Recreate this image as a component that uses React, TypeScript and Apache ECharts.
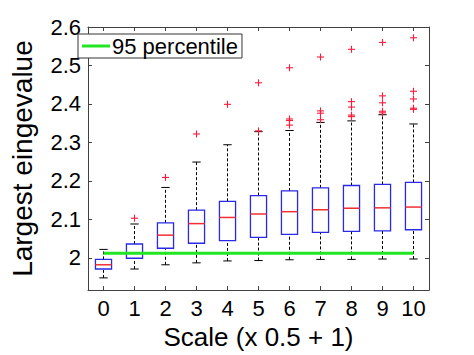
import React, { useEffect, useRef } from "react";
import * as echarts from "echarts";

const categories = ["0", "1", "2", "3", "4", "5", "6", "7", "8", "9", "10"];
// [min, q1, median, q3, max]
const boxStats: number[][] = [
  [1.948, 1.971, 1.982, 1.996, 2.022],
  [1.971, 1.999, 2.012, 2.036, 2.088],
  [1.982, 2.025, 2.059, 2.091, 2.183],
  [1.987, 2.038, 2.089, 2.124, 2.249],
  [1.992, 2.045, 2.105, 2.147, 2.294],
  [1.993, 2.053, 2.114, 2.162, 2.328],
  [1.995, 2.061, 2.12, 2.174, 2.331],
  [1.996, 2.066, 2.125, 2.182, 2.352],
  [1.996, 2.069, 2.129, 2.188, 2.356],
  [1.997, 2.07, 2.13, 2.191, 2.372],
  [1.997, 2.073, 2.132, 2.196, 2.348],
];
const outliers: number[][] = [
  [],
  [2.103],
  [2.209],
  [2.322],
  [2.399],
  [2.455, 2.33],
  [2.494, 2.361, 2.357, 2.345],
  [2.522, 2.382, 2.376, 2.359],
  [2.542, 2.406, 2.392, 2.371, 2.367],
  [2.56, 2.421, 2.403, 2.381, 2.377],
  [2.572, 2.433, 2.413, 2.389, 2.386],
];
const percentile95 = 2.012;
const yMin = 1.9162;
const yMax = 2.6;

const FONT = "'Liberation Sans', Arial, Helvetica, sans-serif";
const AXIS_COLOR = "#404040";

export default function App() {
  const ref = useRef<HTMLDivElement>(null);
  useEffect(() => {
    if (!ref.current) return;
    const chart = echarts.init(ref.current, undefined, { renderer: "svg" });
    const boxData = boxStats.map((s, i) => [i, ...s]);
    const outlierData: number[][] = [];
    outliers.forEach((arr, i) => arr.forEach((v) => outlierData.push([i, v])));
    const lineData = [
      [categories[0], percentile95],
      [categories[categories.length - 1], percentile95],
    ];

    const yAxisCommon = {
      type: "value",
      min: yMin,
      max: yMax,
      splitNumber: 6,
      splitLine: { show: false },
      axisLine: { show: true, lineStyle: { color: AXIS_COLOR, width: 1 } },
      axisTick: { show: true, inside: true, length: 4, lineStyle: { color: AXIS_COLOR } },
    };
    const xAxisCommon = {
      type: "category",
      data: categories,
      boundaryGap: true,
      splitLine: { show: false },
      axisLine: { show: true, lineStyle: { color: AXIS_COLOR, width: 1 } },
      axisTick: {
        show: true,
        inside: true,
        length: 4,
        alignWithLabel: true,
        interval: 0,
        lineStyle: { color: AXIS_COLOR },
      },
    };

    chart.setOption({
      animation: false,
      backgroundColor: "#ffffff",
      textStyle: { fontFamily: FONT },
      grid: { left: 70, right: 45, top: 27, bottom: 58, containLabel: false },
      legend: {
        show: true,
        data: [{ name: "95 percentile", icon: "rect" }],
        left: 78,
        top: 34,
        orient: "horizontal",
        itemWidth: 28,
        itemHeight: 3,
        itemGap: 4,
        padding: [1, 4, 1, 4],
        borderColor: "#333",
        borderWidth: 1,
        backgroundColor: "#fff",
        textStyle: { fontSize: 22, color: "#000", fontFamily: FONT, padding: [0, 0, 0, -3] },
      },
      xAxis: [
        {
          ...xAxisCommon,
          position: "bottom",
          name: "Scale (x 0.5 + 1)",
          nameLocation: "middle",
          nameGap: 27,
          nameTextStyle: { fontSize: 26, color: "#000", fontFamily: FONT },
          axisLabel: { show: true, interval: 0, fontSize: 22, color: "#000", margin: 7, fontFamily: FONT },
        },
        {
          ...xAxisCommon,
          position: "top",
          axisLabel: { show: false },
        },
      ],
      yAxis: [
        {
          ...yAxisCommon,
          position: "left",
          name: "Largest eingevalue",
          nameLocation: "middle",
          nameGap: 52,
          nameTextStyle: { fontSize: 28, color: "#000", fontFamily: FONT },
          axisLabel: {
            show: true,
            fontSize: 22,
            color: "#000",
            margin: 7,
            fontFamily: FONT,
            showMinLabel: false,
            formatter: (v: number) => {
              const r = Math.round(v * 10) / 10;
              if (Math.abs(r - v) > 1e-6) return "";
              return r === 2 ? "2" : r.toFixed(1);
            },
          },
        },
        {
          ...yAxisCommon,
          position: "right",
          axisLabel: { show: false },
        },
      ],
      series: [
        {
          type: "custom",
          name: "boxes",
          xAxisIndex: 0,
          yAxisIndex: 0,
          data: boxData,
          encode: { x: 0, y: [1, 2, 3, 4, 5] },
          renderItem: (params: any, api: any) => {
            const idx = api.value(0);
            const vals = [api.value(1), api.value(2), api.value(3), api.value(4), api.value(5)];
            const band = api.size([1, 0])[0];
            const hw = band * 0.26;
            const cw = band * 0.135;
            const pMin = api.coord([idx, vals[0]]);
            const pQ1 = api.coord([idx, vals[1]]);
            const pMed = api.coord([idx, vals[2]]);
            const pQ3 = api.coord([idx, vals[3]]);
            const pMax = api.coord([idx, vals[4]]);
            const cx = pMed[0];
            const dash = { stroke: "#000", lineWidth: 1, lineDash: [3, 2] };
            const solid = { stroke: "#000", lineWidth: 1 };
            return {
              type: "group",
              children: [
                { type: "line", shape: { x1: cx, y1: pQ3[1], x2: cx, y2: pMax[1] }, style: dash },
                { type: "line", shape: { x1: cx, y1: pMin[1], x2: cx, y2: pQ1[1] }, style: dash },
                { type: "line", shape: { x1: cx - cw, y1: pMax[1], x2: cx + cw, y2: pMax[1] }, style: solid },
                { type: "line", shape: { x1: cx - cw, y1: pMin[1], x2: cx + cw, y2: pMin[1] }, style: solid },
                {
                  type: "rect",
                  shape: { x: cx - hw, y: pQ3[1], width: hw * 2, height: pQ1[1] - pQ3[1] },
                  style: { fill: "none", stroke: "#2a2ae6", lineWidth: 1.3 },
                },
                {
                  type: "line",
                  shape: { x1: cx - hw, y1: pMed[1], x2: cx + hw, y2: pMed[1] },
                  style: { stroke: "#f03030", lineWidth: 1.5 },
                },
              ],
            };
          },
          z: 2,
        },
        {
          type: "custom",
          name: "outliers",
          xAxisIndex: 0,
          yAxisIndex: 0,
          data: outlierData,
          encode: { x: 0, y: 1 },
          renderItem: (params: any, api: any) => {
            const p = api.coord([api.value(0), api.value(1)]);
            const s = 3.5;
            const st = { stroke: "#ff1a3a", lineWidth: 1.1 };
            return {
              type: "group",
              children: [
                { type: "line", shape: { x1: p[0] - s, y1: p[1], x2: p[0] + s, y2: p[1] }, style: st },
                { type: "line", shape: { x1: p[0], y1: p[1] - s, x2: p[0], y2: p[1] + s }, style: st },
              ],
            };
          },
          z: 3,
        },
        {
          type: "line",
          name: "95 percentile",
          xAxisIndex: 0,
          yAxisIndex: 0,
          data: lineData,
          symbol: "none",
          showSymbol: false,
          lineStyle: { color: "#22e622", width: 3 },
          itemStyle: { color: "#22e622" },
          z: 4,
        },
      ],
    });
    return () => chart.dispose();
  }, []);
  return (
    <div
      ref={ref}
      style={{ position: "fixed", left: 0, top: 0, width: 474, height: 355 }}
    />
  );
}
